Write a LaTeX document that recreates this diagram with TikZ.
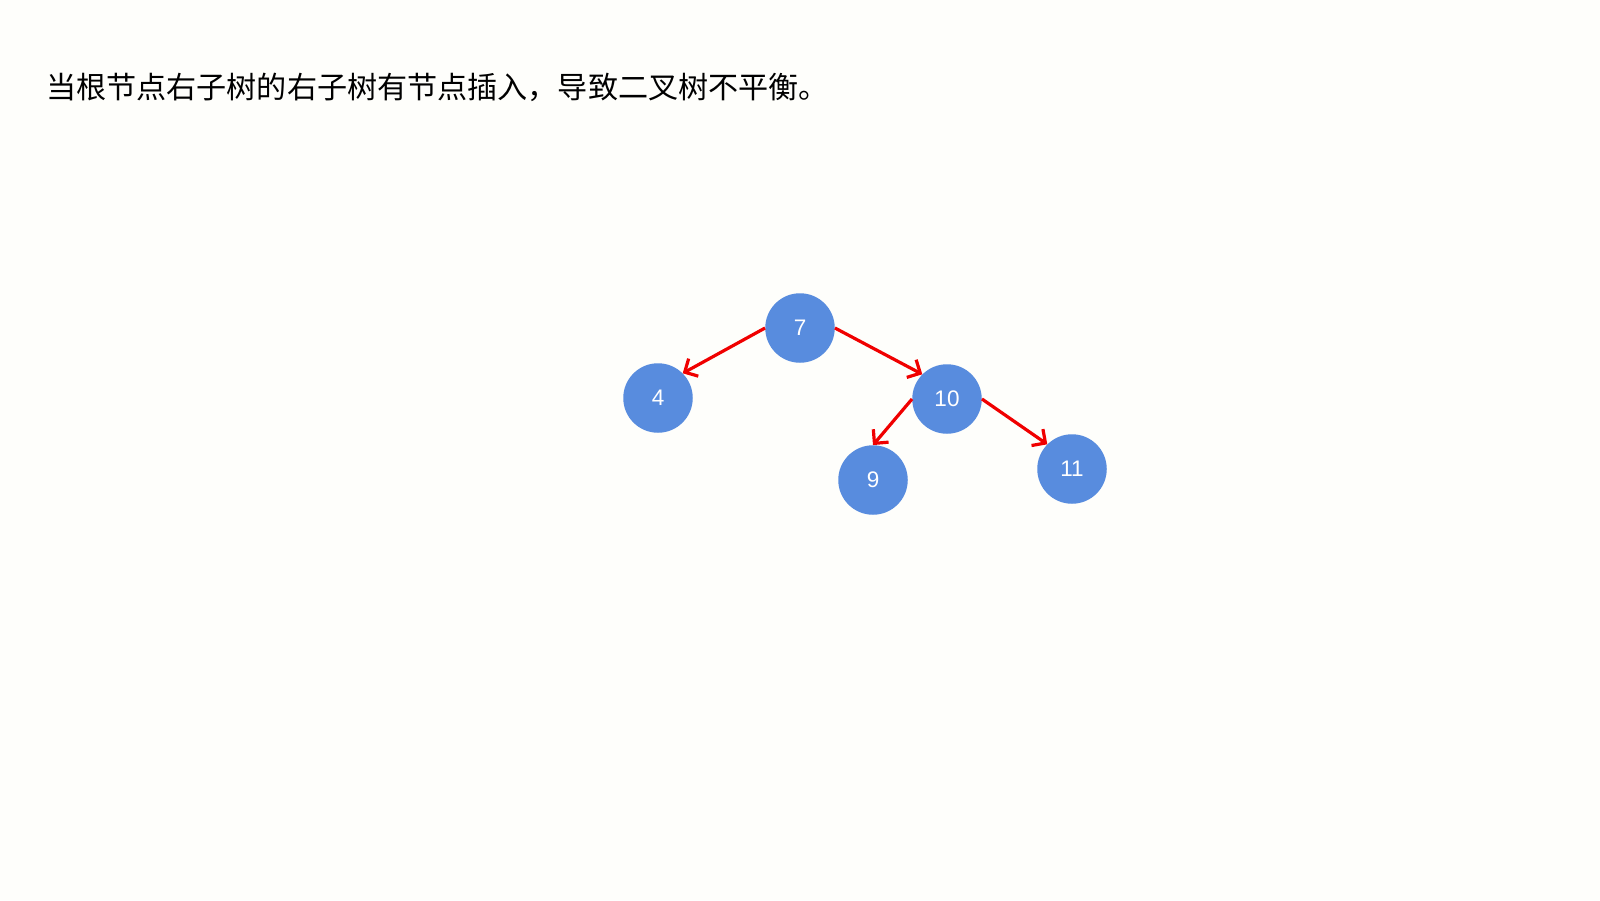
\documentclass[tikz,border=0pt]{standalone}
\usepackage{fontspec}
\setmainfont{Liberation Sans}
\newfontfamily\cjk{Noto Sans CJK SC}
\usetikzlibrary{arrows.meta}
\definecolor{nodeblue}{RGB}{88,140,222}
\definecolor{bgcol}{RGB}{254,254,251}
\definecolor{arrred}{RGB}{240,0,0}
\tikzset{
  tnode/.style={circle, fill=nodeblue, minimum size=69.5pt, inner sep=0pt, text=white, font=\fontsize{22.5}{22.5}\selectfont},
  edge/.style={draw=arrred, line width=3.2pt, -{Straight Barb[length=10pt,width=20pt,line width=3.2pt]}},
}
\begin{document}
\begin{tikzpicture}[x=1pt,y=-1pt]
\fill[bgcol] (0,0) rectangle (1600,900);
\useasboundingbox (0,0) rectangle (1600,900);
\node[anchor=west, inner sep=0pt, font=\cjk\fontsize{30.1}{31}\selectfont] (title) at (46,87) {当根节点右子树的右子树有节点插入，导致二叉树不平衡。};
\node[tnode] (n7) at (800,328) {7};
\node[tnode] (n4) at (658,398) {4};
\node[tnode] (n10) at (947,399) {10};
\node[tnode] (n9) at (873,480) {9};
\node[tnode] (n11) at (1072,469) {11};
\draw[edge] (n7.west) -- (n4.north east);
\draw[edge] (n7.east) -- (n10.north west);
\draw[edge] (n10.west) -- (n9.north);
\draw[edge] (n10.east) -- (n11.north west);
\end{tikzpicture}
\end{document}
